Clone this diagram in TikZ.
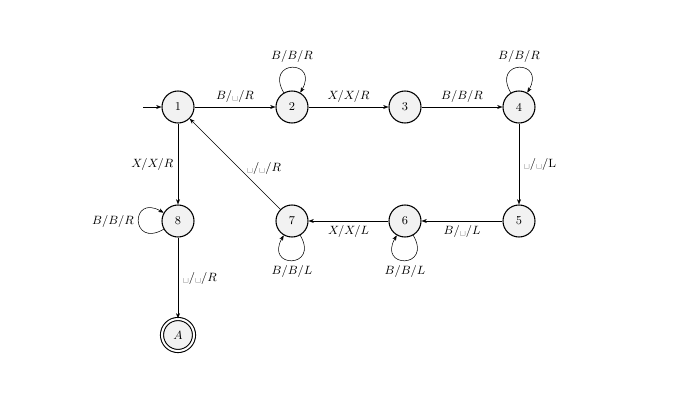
\documentclass[tikz,border=0pt]{standalone}
\usetikzlibrary{arrows.meta}
\newcommand{\vs}{\text{\textvisiblespace}}
\usepackage{amsmath}
\begin{document}
\begin{tikzpicture}[x=0.75pt,y=-0.75pt,
  st/.style={circle,draw,thick,fill=gray!10,minimum size=24pt,inner sep=0pt,font=\small},
  acc/.style={st,double,double distance=1.5pt},
  lb/.style={font=\small},
  every edge/.style={draw,-{Stealth[length=4pt]},thin},
  lp/.style={-{Stealth[length=4pt]},thin,looseness=6}]
\useasboundingbox (0,0) rectangle (700,400);
\node[st] (1) at (178,107) {1};
\node[st] (2) at (292,107) {2};
\node[st] (3) at (405,107) {3};
\node[st] (4) at (519,107) {4};
\node[st] (5) at (519,221) {5};
\node[st] (6) at (405,221) {6};
\node[st] (7) at (292,221) {7};
\node[st] (8) at (178,221) {8};
\node[acc] (A) at (178,335) {$A$};
\coordinate (s) at (143,107);
\draw (s) edge (1);
\draw (1) edge node[lb,above] {$B/\vs/R$} (2)
      (2) edge node[lb,above] {$X/X/R$} (3)
      (3) edge node[lb,above] {$B/B/R$} (4)
      (4) edge node[lb,right] {$\vs/\vs/$L} (5)
      (5) edge node[lb,below] {$B/\vs/L$} (6)
      (6) edge node[lb,below] {$X/X/L$} (7)
      (7) edge node[lb,right,pos=0.45,xshift=2pt] {$\vs/\vs/R$} (1)
      (1) edge node[lb,left] {$X/X/R$} (8)
      (8) edge node[lb,right] {$\vs/\vs/R$} (A);
\draw[lp] (2) to[out=120,in=60] node[lb,above] {$B/B/R$} (2);
\draw[lp] (4) to[out=120,in=60] node[lb,above] {$B/B/R$} (4);
\draw[lp] (7) to[out=-60,in=-120] node[lb,below] {$B/B/L$} (7);
\draw[lp] (6) to[out=-60,in=-120] node[lb,below] {$B/B/L$} (6);
\draw[lp] (8) to[out=210,in=150] node[lb,left] {$B/B/R$} (8);
\end{tikzpicture}
\end{document}
